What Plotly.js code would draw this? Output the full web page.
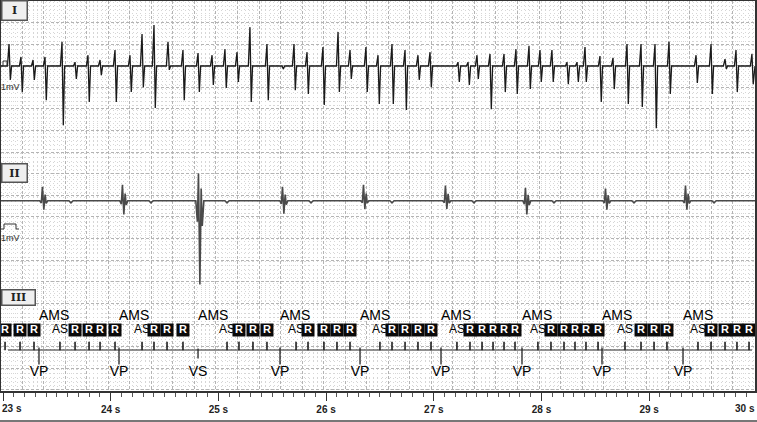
<!DOCTYPE html>
<html><head><meta charset="utf-8">
<script src="https://cdn.plot.ly/plotly-3.0.1.min.js"></script>
<style>html,body{margin:0;padding:0;background:#fff}#chart{width:757px;height:422px}</style>
</head><body><div id="chart"></div>
<script>
// ---------- DATA ----------
// Lead I: spike times (s), positive and negative deflection (mV)
const leadI_t  = [23.056,23.167,23.279,23.390,23.548,23.669,23.789,23.901,24.040,24.179,24.291,24.402,24.532,24.671,24.811,24.941,25.061,25.173,25.293,25.451,25.591,25.702,25.823,25.971,26.111,26.222,26.370,26.482,26.612,26.733,26.853,26.965,27.225,27.318,27.401,27.522,27.652,27.763,27.884,27.986,28.097,28.237,28.330,28.404,28.543,28.664,28.794,28.924,29.054,29.184,29.435,29.574,29.704,29.806,29.954];
const leadI_up = [0.51,0.21,0.14,0.21,0.56,0.09,0.25,0.14,0.37,0.25,0.74,0.95,0.56,0.37,0.30,0.25,0.39,0.32,0.90,0.51,0.00,0.51,0.32,0.44,0.79,0.37,0.44,0.25,0.51,0.37,0.25,0.32,0.09,0.09,0.25,0.28,0.28,0.39,0.46,0.37,0.37,0.09,0.09,0.44,0.23,0.19,0.51,0.51,0.51,0.56,0.25,0.51,0.16,0.37,0.28];
const leadI_dn = [0.32,0.60,0.32,0.79,1.37,0.30,0.83,0.21,0.83,0.60,0.49,0.97,0.09,0.79,0.60,0.44,0.51,0.37,0.83,0.79,0.07,0.56,0.65,0.90,0.60,0.30,0.60,0.88,0.88,1.02,0.32,0.49,0.37,0.44,0.30,1.00,0.60,0.65,0.53,0.37,0.37,0.42,0.37,0.37,0.83,0.53,0.88,0.95,1.44,0.65,0.39,0.65,0.07,0.60,0.42];

// Lead II: ventricular complexes
const leadII_t  = [23.371,24.114,24.820,25.600,26.352,27.113,27.856,28.599,29.342];
const leadII_up = [0.32,0.37,0.63,0.32,0.37,0.35,0.30,0.28,0.35];
const leadII_dn = [0.21,0.32,1.94,0.30,0.19,0.19,0.32,0.21,0.21];

// Marker channel: atrial events and ventricular events
const aTimes  = [23.019,23.158,23.288,23.529,23.669,23.799,23.901,24.040,24.291,24.402,24.523,24.671,25.080,25.191,25.321,25.451,25.721,25.832,25.980,26.101,26.222,26.500,26.612,26.733,26.853,26.974,27.215,27.336,27.448,27.550,27.652,27.754,27.967,28.088,28.209,28.311,28.413,28.525,28.775,28.924,29.045,29.165,29.453,29.574,29.704,29.815,29.927];
const aLabels = ['R','R','R','AS','R','R','R','R','AS','R','R','R','AS','R','R','R','AS','R','R','R','R','AS','R','R','R','R','AS','R','R','R','R','R','AS','R','R','R','R','R','AS','R','R','R','AS','R','R','R','R'];
const vTimes  = [23.334,24.077,24.811,25.572,26.315,27.067,27.819,28.562,29.314];
const vLabels = ['VP','VP','VS','VP','VP','VP','VP','VP','VP'];
const modeLabel = 'AMS';

const tickSeconds = [23,24,25,26,27,28,29,30];
const tickLabels  = ['23 s','24 s','25 s','26 s','27 s','28 s','29 s','30 s'];
const panelNames  = ['I','II','III'];
const calLabel    = '1mV';

// ---------- LAYOUT CONSTANTS ----------
const X0 = 22.9814, X1 = 29.9824;
const YTOP = 9.028;
const BASE_I = 7.523, BASE_II = 4.405;
const Y_AMS = 1.736, Y_R = 1.412, Y_ATICK = 1.042, Y_LINE = 0.949, Y_VP = 0.810, Y_VS = 0.868, Y_VTEXT = 0.417;
const FONT = 'Liberation Sans, Arial, sans-serif';

// ---------- build traces ----------
function buildLeadI(){
  const x=[X0], y=[BASE_I];
  leadI_t.forEach((t,i)=>{
    x.push(t-0.015, t, t+0.012, t+0.024);
    y.push(BASE_I, BASE_I+leadI_up[i], BASE_I-leadI_dn[i], BASE_I);
  });
  x.push(X1); y.push(BASE_I);
  return {x, y};
}
function buildLeadII(){
  const x=[X0], y=[BASE_II];
  leadII_t.forEach((t,i)=>{
    const u=leadII_up[i], d=leadII_dn[i];
    x.push(t-0.03, t-0.015, t-0.005, t+0.008, t+0.02, t+0.03, t+0.045, t+0.24, t+0.26, t+0.28);
    y.push(BASE_II, BASE_II-0.25*d, BASE_II+u, BASE_II-d, BASE_II+0.45*u, BASE_II-0.3*d, BASE_II, BASE_II, BASE_II-0.05, BASE_II);
  });
  x.push(X1); y.push(BASE_II);
  return {x, y};
}
const L1 = buildLeadI(), L2 = buildLeadII();

const rIdx = aLabels.map((l,i)=>l==='R'?i:-1).filter(i=>i>=0);
const asIdx = aLabels.map((l,i)=>l==='AS'?i:-1).filter(i=>i>=0);

const traces = [
  {x:L1.x, y:L1.y, xaxis:'x', yaxis:'y', mode:'lines', line:{color:'#1a1a1a', width:1.3}, hoverinfo:'skip'},
  {x:L2.x, y:L2.y, xaxis:'x', yaxis:'y', mode:'lines', line:{color:'#4a4a4a', width:1.6}, hoverinfo:'skip'},
  // atrial small ticks
  {x:aTimes, y:aTimes.map(()=>Y_ATICK), xaxis:'x2', yaxis:'y', mode:'markers',
   marker:{symbol:'line-ns', size:6, line:{width:1.5, color:'#111'}}, hoverinfo:'skip'},
  // ventricular ticks
  {x:vTimes, y:vLabels.map(l=>l==='VS'?Y_VS:Y_VP), xaxis:'x2', yaxis:'y', mode:'markers',
   marker:{symbol:'line-ns', size:vLabels.map(l=>l==='VS'?7:12), line:{width:1.7, color:'#111'}}, hoverinfo:'skip'},
  // AS labels
  {x:asIdx.map(i=>aTimes[i]), y:asIdx.map(()=>Y_R), xaxis:'x2', yaxis:'y', mode:'text',
   text:asIdx.map(i=>aLabels[i]), textposition:'middle center', textfont:{family:FONT, size:12, color:'#000'}, hoverinfo:'skip'},
  // R boxes
  {x:rIdx.map(i=>aTimes[i]), y:rIdx.map(()=>Y_R), xaxis:'x2', yaxis:'y', mode:'markers+text',
   marker:{symbol:'square', size:13, color:'#0a0a0a'},
   text:rIdx.map(i=>'<b>'+aLabels[i]+'</b>'), textposition:'middle center', textfont:{family:FONT, size:11, color:'#fff'}, hoverinfo:'skip'},
  // AMS labels
  {x:vTimes, y:vTimes.map(()=>Y_AMS), xaxis:'x2', yaxis:'y', mode:'text',
   text:vTimes.map(()=>modeLabel), textposition:'middle right', textfont:{family:FONT, size:14, color:'#000'}, hoverinfo:'skip'},
  // VP / VS labels
  {x:vTimes, y:vTimes.map(()=>Y_VTEXT), xaxis:'x2', yaxis:'y', mode:'text',
   text:vLabels, textposition:'middle center', textfont:{family:FONT, size:14, color:'#000'}, hoverinfo:'skip'}
];

const plotH = 390;
function py(px){ return (391 - px) / plotH; } // image pixel row -> paper y
function pxp(px){ return (px - 1) / 754; }   // image pixel column -> paper x

function panelBox(name, topPx, w, h){
  return {xref:'paper', yref:'paper', x:0, y:py(topPx), xanchor:'left', yanchor:'top',
    text:'<b>'+name+'</b>', showarrow:false, font:{family:'DejaVu Serif, Liberation Serif, serif', size:11, color:'#222'},
    bgcolor:'#efefef', bordercolor:'#555', borderwidth:1.5, borderpad:1, width:w, height:h};
}

const annotations = [
  panelBox(panelNames[0], 0, 22, 16),
  panelBox(panelNames[1], 163, 22, 15),
  panelBox(panelNames[2], 289, 30, 12),
  {xref:'paper', yref:'paper', x:pxp(-1), y:py(87), xanchor:'left', yanchor:'middle', text:calLabel, showarrow:false, font:{family:FONT, size:9, color:'#333'}},
  {xref:'paper', yref:'paper', x:pxp(-1), y:py(238), xanchor:'left', yanchor:'middle', text:calLabel, showarrow:false, font:{family:FONT, size:9, color:'#333'}},
  {xref:'paper', yref:'paper', x:pxp(0), y:py(408), xanchor:'left', yanchor:'middle', text:'<b>'+tickLabels[0]+'</b>', showarrow:false, font:{family:FONT, size:10, color:'#222'}},
  {xref:'paper', yref:'paper', x:pxp(757), y:py(408), xanchor:'right', yanchor:'middle', text:'<b>'+tickLabels[tickLabels.length-1]+'</b>', showarrow:false, font:{family:FONT, size:10, color:'#222'}}
];

const shapes = [
  // marker-channel baseline
  {type:'line', xref:'paper', yref:'y', x0:pxp(8), x1:pxp(752), y0:Y_LINE, y1:Y_LINE, line:{color:'#222', width:1}},
  // calibration pulses
  {type:'path', xref:'paper', yref:'paper', path:`M ${pxp(1)},${py(229)} L ${pxp(4)},${py(229)} L ${pxp(4)},${py(224)} L ${pxp(16)},${py(224)} L ${pxp(16)},${py(229)} L ${pxp(19)},${py(229)}`, line:{color:'#333', width:1}},
  {type:'path', xref:'paper', yref:'paper', path:`M ${pxp(1)},${py(66)} L ${pxp(3)},${py(66)} L ${pxp(3)},${py(61)} L ${pxp(7)},${py(61)} L ${pxp(7)},${py(66)}`, line:{color:'#333', width:1}},
  // bottom frame line of the figure
  {type:'line', xref:'paper', yref:'paper', x0:pxp(0), x1:pxp(757), y0:py(421), y1:py(421), line:{color:'#777', width:2}}
];

const layout = {
  width:757, height:422,
  margin:{l:1, r:2, t:1, b:31, pad:0},
  paper_bgcolor:'#fff', plot_bgcolor:'#fff',
  showlegend:false,
  xaxis:{range:[X0,X1], tick0:22.977, dtick:0.2, showgrid:true, gridcolor:'#b4b4b4', griddash:'3px,2px', gridwidth:1,
    minor:{dtick:0.04, showgrid:true, gridcolor:'#d6d6d6', griddash:'1px,3px', gridwidth:1},
    showticklabels:false, ticks:'', showline:false, zeroline:false, fixedrange:true},
  xaxis2:{overlaying:'x', anchor:'y', side:'bottom', range:[X0,X1],
    tickmode:'array', tickvals:tickSeconds, ticktext:tickLabels.map((t,i)=>(i===0||i===tickLabels.length-1)?'':'<b>'+t+'</b>'),
    ticks:'outside', ticklen:8, tickwidth:1, tickcolor:'#333',
    minor:{tickmode:'linear', tick0:23, dtick:0.1, ticks:'outside', ticklen:4, tickcolor:'#555', tickwidth:1, showgrid:false},
    tickfont:{family:FONT, size:10, color:'#222'},
    showgrid:false, zeroline:false, showline:true, mirror:true, linecolor:'#333', linewidth:1.5},
  yaxis:{range:[0,YTOP], tick0:0.03, dtick:0.5, showgrid:true, gridcolor:'#b4b4b4', griddash:'3px,2px', gridwidth:1,
    minor:{dtick:0.1, showgrid:true, gridcolor:'#d6d6d6', griddash:'1px,3px', gridwidth:1},
    showticklabels:false, ticks:'', zeroline:false, showline:true, mirror:true, linecolor:'#333', linewidth:1.5, fixedrange:true},
  annotations, shapes
};

Plotly.newPlot('chart', traces, layout, {staticPlot:true, displayModeBar:false});
</script>
</body></html>
